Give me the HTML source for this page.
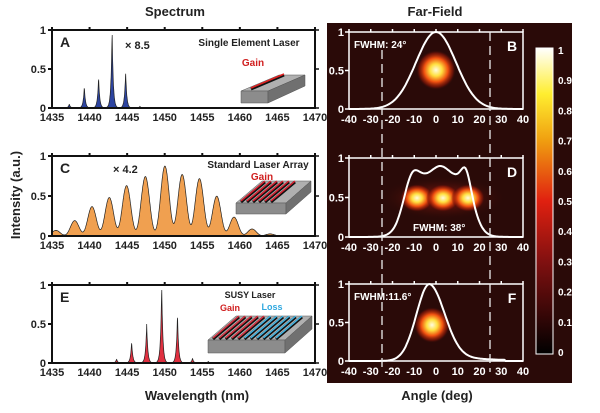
<!DOCTYPE html>
<html><head><meta charset="utf-8"><style>
html,body{margin:0;padding:0;background:#fff;}
svg{display:block;font-family:"Liberation Sans",Arial,sans-serif;font-weight:bold;}
</style></head><body>
<svg id="s" width="600" height="413" viewBox="0 0 600 413" xmlns="http://www.w3.org/2000/svg">
<defs>
<radialGradient id="blob"><stop offset="0" stop-color="#fffbe0"/><stop offset="0.3" stop-color="#ffe040"/><stop offset="0.6" stop-color="#f05010"/><stop offset="0.85" stop-color="#901808" stop-opacity="0.6"/><stop offset="1" stop-color="#2a0a08" stop-opacity="0"/></radialGradient>
<radialGradient id="glow"><stop offset="0" stop-color="#c02010" stop-opacity="0.9"/><stop offset="1" stop-color="#2a0a08" stop-opacity="0"/></radialGradient>
<linearGradient id="cb" x1="0" y1="1" x2="0" y2="0"><stop offset="0" stop-color="#000"/><stop offset="0.3" stop-color="#801010"/><stop offset="0.5" stop-color="#e02010"/><stop offset="0.7" stop-color="#f0a010"/><stop offset="0.85" stop-color="#ffee30"/><stop offset="1" stop-color="#fff"/></linearGradient>
</defs>
<text x="175" y="16" font-size="13" text-anchor="middle" fill="#222">Spectrum</text>
<text x="435" y="16" font-size="13" text-anchor="middle" fill="#222">Far-Field</text>
<text transform="translate(20,195) rotate(-90)" font-size="13" text-anchor="middle" fill="#222">Intensity (a.u.)</text>
<text x="197" y="400" font-size="13" text-anchor="middle" fill="#222">Wavelength (nm)</text>
<text x="437" y="400" font-size="13" text-anchor="middle" fill="#222">Angle (deg)</text>
<rect x="327" y="23" width="245" height="360" fill="#2a0a08"/>
<rect x="536" y="48" width="17" height="306" fill="url(#cb)" stroke="#fff" stroke-width="1"/>
</svg>
<script>
var NS="http://www.w3.org/2000/svg",svg=document.getElementById('s');
function el(t,a,txt){var e=document.createElementNS(NS,t);for(var k in a)e.setAttribute(k,a[k]);if(txt!==undefined)e.textContent=txt;svg.appendChild(e);return e;}
var L=[{top:30,bot:108,fill:'#2d44a0',peaks:[[1437.3,.05],[1439.3,.27],[1441.2,.39],[1443,1],[1444.8,.47],[1446.7,.02]],w:.24,lab:'A'},
{top:156,bot:236,fill:'#f0a050',peaks:[[1435.5,.08],[1438,.22],[1440.3,.42],[1442.6,.55],[1444.9,.72],[1447.4,.85],[1450,1],[1452.3,.88],[1454.6,.82],[1456.9,.57],[1459.2,.27],[1461.6,.1],[1464,.03]],w:.45,lab:'C'},
{top:285,bot:363,fill:'#e03040',peaks:[[1443.6,.05],[1445.6,.27],[1447.6,.5],[1449.6,1],[1451.7,.62],[1453.7,.06],[1455.8,.02]],w:.24,lab:'E'}];
L.forEach(function(p,i){
 var X=function(w){return 52+(w-1435)*7.514;},H=p.bot-p.top,d='M52,'+p.bot;
 for(var w=1435;w<=1470;w+=0.03){var v=0;p.peaks.forEach(function(k){var s=p.w;if(i==1){v+=k[1]*(0.85*Math.exp(-Math.pow((w-k[0]+.25)/s,2)/2)+0.85*Math.exp(-Math.pow((w-k[0]-.3)/s,2)/2))*0.62;}else v+=k[1]*Math.exp(-Math.abs(w-k[0])/s*1.6);});
  v=Math.min(v,1);d+=' L'+X(w).toFixed(1)+','+(p.bot-H*v).toFixed(1);}
 d+=' L315,'+p.bot+' Z';
 el('path',{d:d,fill:p.fill,stroke:'#222','stroke-width':0.7});
 el('rect',{x:52,y:p.top,width:263,height:H,fill:'none',stroke:'#111','stroke-width':2});
 for(var t=1435;t<=1470;t+=5){el('line',{x1:X(t),x2:X(t),y1:p.top,y2:p.top-3,stroke:'#111','stroke-width':2});
  el('text',{x:X(t),y:p.bot+13,'font-size':11,'text-anchor':'middle',fill:'#222'},''+t);}
 [[0,'0'],[.5,'0.5'],[1,'1']].forEach(function(q){var y=p.bot-H*q[0];el('line',{x1:48,x2:52,y1:y,y2:y,stroke:'#111','stroke-width':2});el('line',{x1:315,x2:319,y1:y,y2:y,stroke:'#111','stroke-width':1.5});
  el('text',{x:46,y:y+4,'font-size':11,'text-anchor':'end',fill:'#222'},q[1]);});
 el('text',{x:60,y:p.top+17,'font-size':14,fill:'#222'},p.lab);
});
el('text',{x:125,y:49,'font-size':11,fill:'#222'},'× 8.5');
el('text',{x:249,y:46,'font-size':10,'text-anchor':'middle',fill:'#222'},'Single Element  Laser');
el('text',{x:253,y:66,'font-size':10,'text-anchor':'middle',fill:'#d02020'},'Gain');
el('text',{x:113,y:173,'font-size':11,fill:'#222'},'× 4.2');
el('text',{x:258,y:168,'font-size':10,'text-anchor':'middle',fill:'#222'},'Standard Laser Array');
el('text',{x:262,y:180,'font-size':10,'text-anchor':'middle',fill:'#d02020'},'Gain');
el('text',{x:250,y:298,'font-size':9,'text-anchor':'middle',fill:'#222'},'SUSY Laser');
el('text',{x:230,y:311,'font-size':9,'text-anchor':'middle',fill:'#d02020'},'Gain');
el('text',{x:272,y:310,'font-size':9,'text-anchor':'middle',fill:'#30a8e0'},'Loss');
el('polygon',{points:'241,91 279,75 305,75 268,91',fill:'#b0b0b0',stroke:'#555','stroke-width':.5});
el('polygon',{points:'241,91 268,91 268,103 241,103',fill:'#8c8c8c',stroke:'#555','stroke-width':.5});
el('polygon',{points:'268,91 305,75 305,86 268,103',fill:'#707070',stroke:'#555','stroke-width':.5});
el('line',{x1:251,y1:89,x2:284,y2:75,stroke:'#111','stroke-width':3});
el('line',{x1:251,y1:88,x2:284,y2:74,stroke:'#e02020','stroke-width':1.5});
el('polygon',{points:'236,203 262,181 311,181 286,203',fill:'#b0b0b0',stroke:'#555','stroke-width':.5});
el('polygon',{points:'236,203 286,203 286,214 236,214',fill:'#8c8c8c',stroke:'#555','stroke-width':.5});
el('polygon',{points:'286,203 311,181 311,192 286,214',fill:'#707070',stroke:'#555','stroke-width':.5});
for(var k=0;k<6;k++){var x0=241+k*6;el('line',{x1:x0,y1:202,x2:x0+24,y2:182,stroke:'#111','stroke-width':3});el('line',{x1:x0,y1:201,x2:x0+24,y2:181,stroke:'#e02030','stroke-width':1.4});}
el('polygon',{points:'208,340 236,316 312,316 285,340',fill:'#b0b0b0',stroke:'#555','stroke-width':.5});
el('polygon',{points:'208,340 285,340 285,353 208,353',fill:'#8c8c8c',stroke:'#555','stroke-width':.5});
el('polygon',{points:'285,340 312,316 312,329 285,353',fill:'#707070',stroke:'#555','stroke-width':.5});
for(var k=0;k<11;k++){var x0=213+k*6.3;var c=k<5?'#e03040':'#40b8e8';el('line',{x1:x0,y1:339,x2:x0+26,y2:317,stroke:'#111','stroke-width':3});el('line',{x1:x0,y1:338,x2:x0+26,y2:316,stroke:c,'stroke-width':1.4});}
var AX=function(a){return 349+(a+40)*2.175;};
el('ellipse',{cx:436,cy:70,rx:20,ry:20,fill:'url(#blob)'});
el('ellipse',{cx:443,cy:198,rx:64,ry:22,fill:'url(#glow)'});
[417,443,468].forEach(function(x){el('ellipse',{cx:x,cy:198,rx:17,ry:14,fill:'url(#blob)'});});
el('ellipse',{cx:432,cy:325,rx:18,ry:18,fill:'url(#blob)'});
var R=[{top:32,bot:109,f:function(a){return Math.exp(-a*a/(2*9.2*9.2));},lab:'B'},
{top:158,bot:237,f:function(a){var e=1/(1+Math.exp((Math.abs(a-1)-16.5)/2.2));var r=0.78+0.14*Math.exp(-Math.pow((a+11)/4,2))+0.12*Math.exp(-Math.pow((a-2)/5,2))+0.24*Math.exp(-Math.pow((a-14)/3,2));return Math.min(e*r,1);},lab:'D'},
{top:284,bot:361,f:function(a){var b=a+3;return b<0?Math.exp(-b*b/(2*6*6)):0.9*Math.exp(-b*b/(2*7*7))+0.1*Math.exp(-b/18)*(a<32?1:0);},lab:'F'}];
R.forEach(function(p){var H=p.bot-p.top,d='';
 for(var a=-40;a<=40;a+=0.5){var v=p.f(a);d+=(d?' L':'M')+AX(a).toFixed(1)+','+(p.bot-H*v).toFixed(1);}
 el('rect',{x:349,y:p.top,width:174,height:H,fill:'none',stroke:'#fff','stroke-width':1.5});
 el('path',{d:d,fill:'none',stroke:'#fff','stroke-width':2});
 for(var t=-40;t<=40;t+=10){el('line',{x1:AX(t),x2:AX(t),y1:p.top,y2:p.top-3,stroke:'#fff','stroke-width':1.5});
  el('text',{x:AX(t),y:p.bot+14,'font-size':11,'text-anchor':'middle',fill:'#fff'},''+t);}
 [[0,'0'],[.5,'0.5'],[1,'1']].forEach(function(q){var y=p.bot-H*q[0];el('line',{x1:345,x2:349,y1:y,y2:y,stroke:'#fff','stroke-width':1.5});
  el('text',{x:344,y:y+4,'font-size':11,'text-anchor':'end',fill:'#fff'},q[1]);});
 el('text',{x:512,y:p.top+19,'font-size':14,'text-anchor':'middle',fill:'#fff'},p.lab);
});
el('line',{x1:382,y1:50,x2:382,y2:372,stroke:'#eee','stroke-width':1.3,'stroke-dasharray':'9,5'});
el('line',{x1:490,y1:32,x2:490,y2:372,stroke:'#eee','stroke-width':1.3,'stroke-dasharray':'9,5'});
el('text',{x:354,y:48,'font-size':10,fill:'#fff'},'FWHM: 24°');
el('text',{x:413,y:231,'font-size':10,fill:'#fff'},'FWHM: 38°');
el('text',{x:354,y:300,'font-size':10,fill:'#fff'},'FWHM:11.6°');
for(var i=0;i<=10;i++){var y=352-i*30.2;el('text',{x:558,y:y+4,'font-size':10,fill:'#fff'},i==10?'1':i==0?'0':'0.'+i);}
</script>
</body></html>
